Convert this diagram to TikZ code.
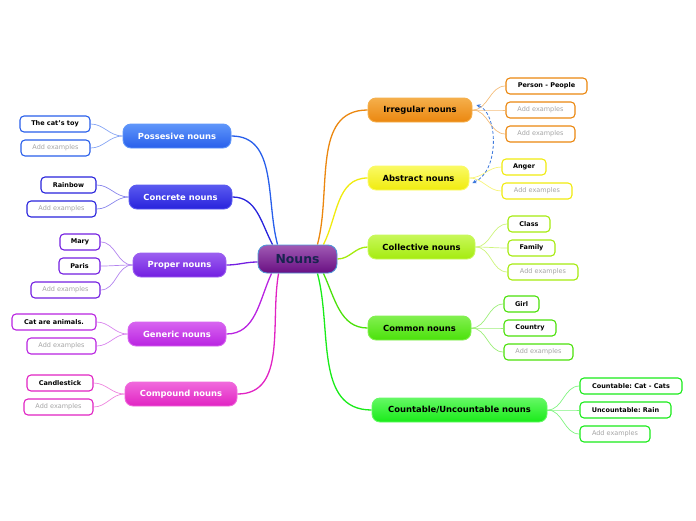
\documentclass[tikz,border=0pt]{standalone}
\usepackage{fontspec}
\setmainfont{DejaVu Sans}
\usetikzlibrary{arrows.meta,calc,backgrounds}
\definecolor{cPos}{RGB}{40,95,235}
\definecolor{cPosT}{RGB}{95,150,250}
\definecolor{cCon}{RGB}{40,35,220}
\definecolor{cConT}{RGB}{90,90,240}
\definecolor{cPro}{RGB}{115,30,225}
\definecolor{cProT}{RGB}{155,95,240}
\definecolor{cGen}{RGB}{185,35,225}
\definecolor{cGenT}{RGB}{215,100,240}
\definecolor{cCmp}{RGB}{225,35,195}
\definecolor{cCmpT}{RGB}{240,105,220}
\definecolor{cIrr}{RGB}{235,135,15}
\definecolor{cIrrT}{RGB}{245,175,75}
\definecolor{cAbs}{RGB}{240,235,15}
\definecolor{cAbsT}{RGB}{250,250,100}
\definecolor{cCol}{RGB}{165,235,15}
\definecolor{cColT}{RGB}{200,248,90}
\definecolor{cCmn}{RGB}{75,225,10}
\definecolor{cCmnT}{RGB}{130,240,80}
\definecolor{cCnt}{RGB}{25,235,25}
\definecolor{cCntT}{RGB}{100,248,100}
\definecolor{cNouT}{RGB}{160,90,180}
\definecolor{cNou}{RGB}{105,15,130}
\definecolor{cNouB}{RGB}{80,150,215}
\definecolor{cNouTx}{RGB}{25,35,80}
\definecolor{cDash}{RGB}{60,120,220}
\definecolor{cGray}{RGB}{165,165,165}
\frenchspacing
\begin{document}
\begin{tikzpicture}[x=1pt,y=1pt,
  mainbox/.style={rounded corners=8pt, minimum height=24pt, inner sep=0pt,
    line width=0.9pt, font=\bfseries\fontsize{8.4}{10}\selectfont},
  lmain/.style={mainbox, draw=#1T, top color=#1T, bottom color=#1, text=white},
  rmain/.style={mainbox, draw=#1T, top color=#1T, bottom color=#1, text=black},
  leaf/.style={draw=#1, fill=white, rounded corners=4pt, minimum height=16pt,
    inner sep=0pt, line width=1.1pt, font=\bfseries\fontsize{6.5}{8}\selectfont},
  addex/.style={leaf=#1, font=\fontsize{6.5}{8}\selectfont, text=cGray},
  branch/.style={draw=#1, line width=1.3pt},
  twig/.style={draw=#1!55, line width=0.7pt}
]
\useasboundingbox (0,0) rectangle (696,-520);
% center
\node[rounded corners=9pt, minimum width=79pt, minimum height=28pt, inner sep=0pt,
  draw=cNouB, line width=0.9pt, top color=cNouT, bottom color=cNou, text=cNouTx,
  font=\bfseries\fontsize{12.4}{14}\selectfont] (nouns) at (297.5,-259) {Nouns};

% left main nodes
\node[lmain=cPos, minimum width=108pt] (pos) at (177,-136) {Possesive nouns};
\node[lmain=cCon, minimum width=103pt] (con) at (180.5,-197) {Concrete nouns};
\node[lmain=cPro, minimum width=93pt] (pro) at (179.5,-265) {Proper nouns};
\node[lmain=cGen, minimum width=98pt] (gen) at (177,-334) {Generic nouns};
\node[lmain=cCmp, minimum width=112pt] (cmp) at (181,-394) {Compound nouns};

% right main nodes
\node[rmain=cIrr, minimum width=104pt] (irr) at (420,-110) {Irregular nouns};
\node[rmain=cAbs, minimum width=101pt] (abs) at (418.5,-178) {Abstract nouns};
\node[rmain=cCol, minimum width=107pt] (col) at (421.5,-247) {Collective nouns};
\node[rmain=cCmn, minimum width=103pt] (cmn) at (419.5,-328) {Common nouns};
\node[rmain=cCnt, minimum width=175pt] (cnt) at (459.5,-410) {Countable/Uncountable nouns};

% left leaves
\node[leaf=cPos, minimum width=70pt] (pos1) at (55,-124) {The cat's toy};
\node[addex=cPos, minimum width=69pt] (pos2) at (55.5,-148) {Add examples};
\node[leaf=cCon, minimum width=55pt] (con1) at (68.5,-185) {Rainbow};
\node[addex=cCon, minimum width=69pt] (con2) at (61.5,-209) {Add examples};
\node[leaf=cPro, minimum width=40pt] (pro1) at (80,-242) {Mary};
\node[leaf=cPro, minimum width=41pt] (pro2) at (79.5,-266) {Paris};
\node[addex=cPro, minimum width=69pt] (pro3) at (65.5,-290) {Add examples};
\node[leaf=cGen, minimum width=84pt] (gen1) at (54,-322) {Cat are animals.};
\node[addex=cGen, minimum width=69pt] (gen2) at (61.5,-346) {Add examples};
\node[leaf=cCmp, minimum width=66pt] (cmp1) at (60,-383) {Candlestick};
\node[addex=cCmp, minimum width=69pt] (cmp2) at (58.5,-407) {Add examples};

% right leaves
\node[leaf=cIrr, minimum width=81pt] (irr1) at (546.5,-86) {Person - People};
\node[addex=cIrr, minimum width=69pt] (irr2) at (540.5,-110) {Add examples};
\node[addex=cIrr, minimum width=69pt] (irr3) at (540.5,-134) {Add examples};
\node[leaf=cAbs, minimum width=44pt] (abs1) at (524,-167) {Anger};
\node[addex=cAbs, minimum width=70pt] (abs2) at (537,-191) {Add examples};
\node[leaf=cCol, minimum width=42pt] (col1) at (529,-224) {Class};
\node[leaf=cCol, minimum width=47pt] (col2) at (531.5,-248) {Family};
\node[addex=cCol, minimum width=70pt] (col3) at (543,-272) {Add examples};
\node[leaf=cCmn, minimum width=35pt] (cmn1) at (521.5,-304) {Girl};
\node[leaf=cCmn, minimum width=52pt] (cmn2) at (530,-328) {Country};
\node[addex=cCmn, minimum width=69pt] (cmn3) at (538.5,-352) {Add examples};
\node[leaf=cCnt, minimum width=102pt] (cnt1) at (631,-386) {Countable: Cat - Cats};
\node[leaf=cCnt, minimum width=91pt] (cnt2) at (625.5,-410) {Uncountable: Rain};
\node[addex=cCnt, minimum width=70pt] (cnt3) at (615,-434) {Add examples};

\begin{pgfonlayer}{background}
% main branches
\draw[branch=cPos] ($(nouns.north west)+(20,0)$) to[out=105,in=0] (pos.east);
\draw[branch=cCon] ($(nouns.north west)+(15,0)$) to[out=118,in=0] (con.east);
\draw[branch=cPro] ($(nouns.west)+(0,-3)$) to[out=180,in=0] (pro.east);
\draw[branch=cGen] ($(nouns.south west)+(14,0)$) to[out=-115,in=0] (gen.east);
\draw[branch=cCmp] ($(nouns.south west)+(21,0)$) to[out=-100,in=0] (cmp.east);
\draw[branch=cIrr] ($(nouns.north east)+(-20,0)$) to[out=75,in=180] (irr.west);
\draw[branch=cAbs] ($(nouns.north east)+(-14,0)$) to[out=63,in=180] (abs.west);
\draw[branch=cCol] (nouns.east) to[out=0,in=180] (col.west);
\draw[branch=cCmn] ($(nouns.south east)+(-14,0)$) to[out=-65,in=180] (cmn.west);
\draw[branch=cCnt] ($(nouns.south east)+(-20,0)$) to[out=-75,in=180] (cnt.west);

% twigs left
\draw[twig=cPos] (pos.west) to[out=180,in=0] (pos1.east);
\draw[twig=cPos] (pos.west) to[out=180,in=0] (pos2.east);
\draw[twig=cCon] (con.west) to[out=180,in=0] (con1.east);
\draw[twig=cCon] (con.west) to[out=180,in=0] (con2.east);
\draw[twig=cPro] (pro.west) to[out=180,in=0] (pro1.east);
\draw[twig=cPro] (pro.west) to[out=180,in=0] (pro2.east);
\draw[twig=cPro] (pro.west) to[out=180,in=0] (pro3.east);
\draw[twig=cGen] (gen.west) to[out=180,in=0] (gen1.east);
\draw[twig=cGen] (gen.west) to[out=180,in=0] (gen2.east);
\draw[twig=cCmp] (cmp.west) to[out=180,in=0] (cmp1.east);
\draw[twig=cCmp] (cmp.west) to[out=180,in=0] (cmp2.east);
% twigs right
\draw[twig=cIrr] (irr.east) to[out=0,in=180] (irr1.west);
\draw[twig=cIrr] (irr.east) to[out=0,in=180] (irr2.west);
\draw[twig=cIrr] (irr.east) to[out=0,in=180] (irr3.west);
\draw[twig=cAbs] (abs.east) to[out=0,in=180] (abs1.west);
\draw[twig=cAbs] (abs.east) to[out=0,in=180] (abs2.west);
\draw[twig=cCol] (col.east) to[out=0,in=180] (col1.west);
\draw[twig=cCol] (col.east) to[out=0,in=180] (col2.west);
\draw[twig=cCol] (col.east) to[out=0,in=180] (col3.west);
\draw[twig=cCmn] (cmn.east) to[out=0,in=180] (cmn1.west);
\draw[twig=cCmn] (cmn.east) to[out=0,in=180] (cmn2.west);
\draw[twig=cCmn] (cmn.east) to[out=0,in=180] (cmn3.west);
\draw[twig=cCnt] (cnt.east) to[out=0,in=180] (cnt1.west);
\draw[twig=cCnt] (cnt.east) to[out=0,in=180] (cnt2.west);
\draw[twig=cCnt] (cnt.east) to[out=0,in=180] (cnt3.west);
\end{pgfonlayer}

% dashed relation
\draw[cDash, line width=0.8pt, dash pattern=on 3pt off 2pt,
  {Stealth[length=4pt,width=4pt]}-{Stealth[length=4pt,width=4pt]}]
  ($(irr.east)+(4,5)$) .. controls ($(irr.east)+(25,-2)$) and ($(abs.east)+(31,8)$) .. ($(abs.east)+(3,-5)$);
\end{tikzpicture}
\end{document}
